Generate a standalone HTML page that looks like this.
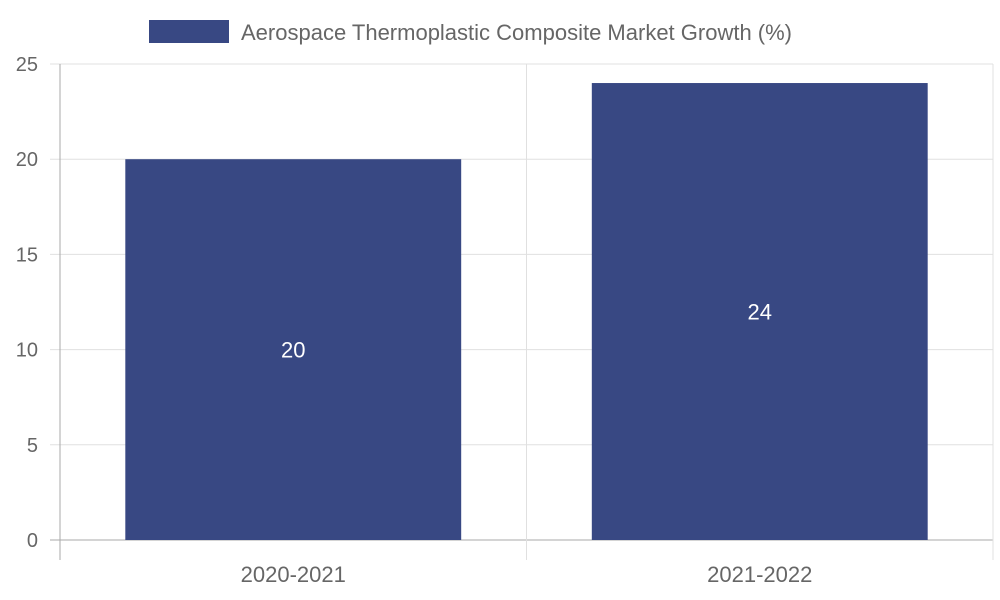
<!DOCTYPE html>
<html><head><meta charset="utf-8"><style>
body{margin:0;background:#fff;}
svg{display:block;font-family:"Liberation Sans",sans-serif;}
</style></head><body>
<svg id="chart" width="1000" height="600">
<g id="legend">
<rect x="149" y="20" width="80" height="23" fill="#384883"/>
<text x="241" y="40" font-size="22" fill="#666">Aerospace Thermoplastic Composite Market Growth (%)</text>
</g>
<g id="grid"></g><g id="bars"></g><g id="labels"></g>
</svg>
<script>
const categories = ["2020-2021", "2021-2022"];
const values = [20, 24];
const yTicks = [0, 5, 10, 15, 20, 25];
const NS = "http://www.w3.org/2000/svg";
const L = 60, R = 993, T = 64, B = 540, yMax = 25;
const y = v => B - (v / yMax) * (B - T);
const bandW = (R - L) / categories.length;
const x = i => L + i * bandW;
function mk(tag, attrs, parent, text) {
  const e = document.createElementNS(NS, tag);
  for (const k in attrs) e.setAttribute(k, attrs[k]);
  if (text !== undefined) e.textContent = text;
  parent.appendChild(e);
  return e;
}
const grid = document.getElementById('grid');
const bars = document.getElementById('bars');
const labels = document.getElementById('labels');
yTicks.forEach(t => {
  const ln = mk('line', {x1: L - 10, x2: R, y1: y(t), y2: y(t), stroke: t === 0 ? '#aaa' : '#e0e0e0', 'stroke-width': 1}, grid);
  
  
  const tx = mk('text', {x: 38, y: y(t) + 7, 'text-anchor': 'end', 'font-size': 20, fill: '#666'}, grid, t);
  
  
});
for (let i = 0; i <= categories.length; i++) {
  const ln = mk('line', {x1: x(i), x2: x(i), y1: T, y2: B + 20, stroke: i === 0 ? '#aaa' : '#e0e0e0', 'stroke-width': 1}, grid);
  
  
}
categories.forEach((c, i) => {
  const bw = bandW * 0.72;
  const bx = x(i) + (bandW - bw) / 2;
  const r = mk('rect', {x: bx, y: y(values[i]), width: bw, height: B - y(values[i]), fill: '#384883'}, bars);
  
  
  const vl = mk('text', {x: x(i) + bandW / 2, y: (y(values[i]) + B) / 2 + 8, 'text-anchor': 'middle', 'font-size': 22, fill: '#fff'}, labels, values[i]);
  
  
  const xl = mk('text', {x: x(i) + bandW / 2, y: 582, 'text-anchor': 'middle', 'font-size': 22, fill: '#666'}, labels, c);
  
  
});
</script>
</body></html>
